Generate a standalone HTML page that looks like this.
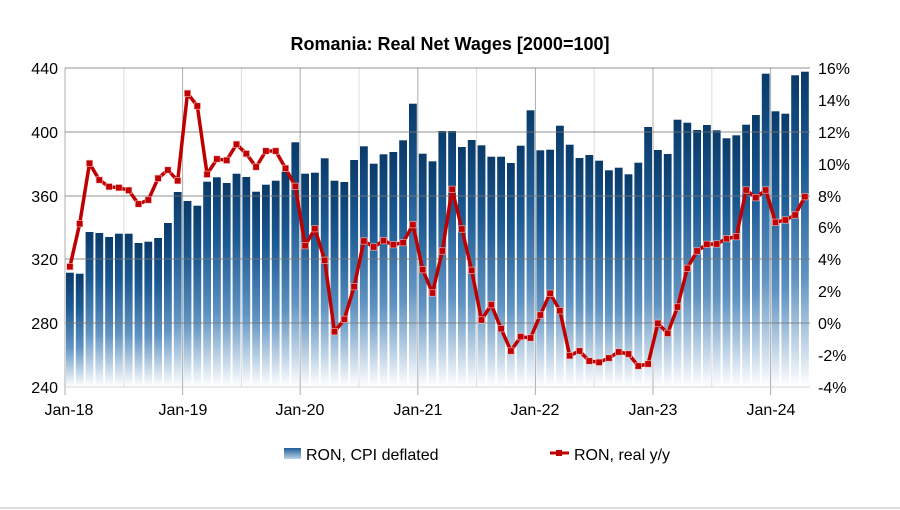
<!DOCTYPE html>
<html><head><meta charset="utf-8"><style>
html,body{margin:0;padding:0;background:#fff;}
svg{display:block;font-family:"Liberation Sans",Arial,sans-serif;}
</style></head><body>
<svg id="c" width="900" height="510" viewBox="0 0 900 510" xmlns="http://www.w3.org/2000/svg">
<defs>
<linearGradient id="g" x1="0" y1="0" x2="0" y2="1">
<stop offset="0" stop-color="#093a69"/>
<stop offset="0.3" stop-color="#1c5a93"/>
<stop offset="0.65" stop-color="#5f93c2"/>
<stop offset="1" stop-color="#ffffff"/>
</linearGradient>
<linearGradient id="lg" x1="0" y1="0" x2="0" y2="1">
<stop offset="0" stop-color="#1f5d95"/><stop offset="1" stop-color="#bcd3e8"/>
</linearGradient>
</defs>
<rect x="0" y="0" width="900" height="510" fill="#fff"/>
<line x1="0" y1="508" x2="900" y2="508" stroke="#ddd" stroke-width="2"/>
<text x="450" y="50" text-anchor="middle" font-size="18" font-weight="bold" fill="#000">Romania: Real Net Wages [2000=100]</text>
<g id="grid"></g>
<g id="bars"></g>
<g id="grid2"></g>
<g id="line"></g>
<g font-size="16" fill="#000">
<text x="58" y="74" text-anchor="end">440</text>
<text x="58" y="138" text-anchor="end">400</text>
<text x="58" y="202" text-anchor="end">360</text>
<text x="58" y="265" text-anchor="end">320</text>
<text x="58" y="329" text-anchor="end">280</text>
<text x="58" y="393" text-anchor="end">240</text>
<text x="818" y="74">16%</text>
<text x="818" y="106">14%</text>
<text x="818" y="138">12%</text>
<text x="818" y="170">10%</text>
<text x="818" y="202">8%</text>
<text x="818" y="233">6%</text>
<text x="818" y="265">4%</text>
<text x="818" y="297">2%</text>
<text x="818" y="329">0%</text>
<text x="818" y="361">-2%</text>
<text x="818" y="393">-4%</text>
<text x="69" y="415" text-anchor="middle">Jan-18</text>
<text x="183" y="415" text-anchor="middle">Jan-19</text>
<text x="300" y="415" text-anchor="middle">Jan-20</text>
<text x="418" y="415" text-anchor="middle">Jan-21</text>
<text x="535" y="415" text-anchor="middle">Jan-22</text>
<text x="653" y="415" text-anchor="middle">Jan-23</text>
<text x="771" y="415" text-anchor="middle">Jan-24</text>
<rect x="284" y="448" width="17" height="11" fill="url(#lg)"/>
<text x="306" y="460">RON, CPI deflated</text>
<line x1="550" y1="453" x2="569" y2="453" stroke="#c00000" stroke-width="3"/>
<rect x="556" y="450" width="6" height="6" fill="#c00000"/>
<text x="574" y="460">RON, real y/y</text>
</g>
</svg>
<script>
var NS="http://www.w3.org/2000/svg";
function el(p,t,a){var e=document.createElementNS(NS,t);for(var k in a)e.setAttribute(k,a[k]);p.appendChild(e);return e;}
var L=65,R=810,T=68,B=387,W=9.8;
var grid=document.getElementById("grid"),grid2=document.getElementById("grid2");
el(grid,"rect",{x:L,y:T,width:R-L,height:B-T,fill:"#fff"});
for(var k=0;k<=12;k++){var x=L+k*6*W;el(k%2==0?grid2:grid,"line",{x1:x,y1:T,x2:x,y2:B+(k%2==0?8:0),stroke:k%2==0?"#999":"#ddd","stroke-width":1,"stroke-opacity":k%2==0?0.8:1});}
[68,132,196,259,323,387].forEach(function(y,i){el(grid2,"line",{x1:L,y1:y,x2:R,y2:y,stroke:i==5?"#ccc":"#777","stroke-width":1,"stroke-opacity":0.8});});
var bars=[272.7,273.7,232,233,237,233.7,233.7,243,241.7,238,223,192,201,205.7,181.7,177.3,183,173.7,177,191.7,184.7,180.7,171.7,142.3,173.7,172.7,158.3,180.7,182,160,146.3,163.7,154.3,152,140.3,103.7,153.7,161.3,131,131,147,140,145.3,156.7,156.7,163,145.7,110.3,150.3,149.7,125.7,144.7,158,155,160.7,170.3,167.7,174.3,162.7,127,150,154,119.7,122.7,130,125,130.3,138.3,135.3,124.7,115,73.7,111.3,113.7,75.3,71.7];
var line=[266.7,223.7,163.3,180,186.7,187.7,190.3,204,200,178.3,170,180.7,93.3,106,174.3,159,160.3,144.3,153.7,167,151,151,168.3,186.3,245.7,228.7,260.3,331.7,319.3,286.7,241,247,240.7,244.7,242.7,224.7,269.7,293,251,189.3,229,270.3,320,304.7,328.7,351,336.7,338,315,293.3,310.7,355.7,351,361,362.3,358,352,354,366,364,323.3,333.3,307,268.3,251,244.3,244,238.7,236.7,190,197.7,190,222.3,220,215,196.7];
var bg=document.getElementById("bars");
bars.forEach(function(y,i){var cx=L+(i+0.5)*W;el(bg,"rect",{x:cx-3.9,y:y,width:7.8,height:B-y,fill:"url(#g)"});});
var lg=document.getElementById("line");
var pts=line.map(function(y,i){return (L+(i+0.5)*W).toFixed(1)+","+y;}).join(" ");
el(lg,"polyline",{points:pts,fill:"none",stroke:"#c00000","stroke-width":3.5,"stroke-linejoin":"round"});
line.forEach(function(y,i){var cx=L+(i+0.5)*W;el(lg,"rect",{x:cx-3.2,y:y-3.2,width:6.4,height:6.4,fill:"#c00000",stroke:"#f2c0c0","stroke-width":0.6});});
</script>
</body></html>
